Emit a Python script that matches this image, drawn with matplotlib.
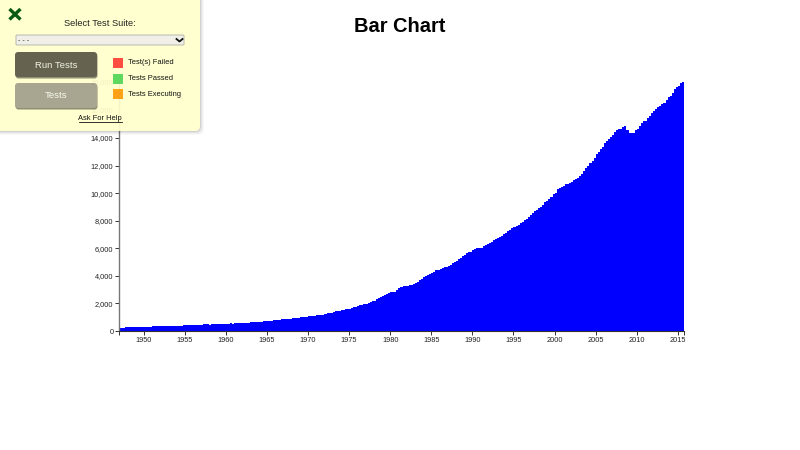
import matplotlib
matplotlib.use("Agg")
import matplotlib.pyplot as plt
import numpy as np
from matplotlib.patches import FancyBboxPatch, Rectangle
from matplotlib.ticker import FuncFormatter

plt.rcParams['font.family'] = ['Liberation Sans', 'DejaVu Sans']

START_YEAR = 1947
gdp = [
 243.1,246.3,250.1,260.3, 266.2,272.9,279.5,280.7, 275.4,271.7,273.3,271.0,
 281.2,290.7,308.5,320.3, 336.4,344.5,351.8,356.6, 360.2,361.4,368.1,381.2,
 388.5,392.3,391.7,386.5, 385.9,386.7,391.6,400.3, 413.8,422.2,430.9,437.8,
 440.5,446.8,452.0,461.3, 470.6,472.8,480.3,475.7, 468.4,472.8,486.7,500.4,
 511.1,524.2,525.2,529.3, 543.3,542.7,546.0,541.1, 545.9,557.4,568.2,581.6,
 595.2,602.6,609.6,613.1, 622.7,631.8,645.0,654.8, 671.1,680.8,692.8,698.7,
 719.2,732.4,750.2,773.1, 797.3,807.2,820.8,834.9, 846.0,851.1,866.6,883.2,
 911.1,936.3,952.3,970.1, 995.4,1011.4,1032.0,1040.7, 1053.5,1070.1,1088.5,1091.5,
 1137.8,1159.4,1180.3,1193.6, 1233.8,1270.1,1293.8,1332.0, 1380.7,1417.6,1436.8,1479.1,
 1494.7,1534.2,1563.4,1603.0, 1619.6,1656.4,1713.8,1765.9, 1824.5,1856.9,1890.5,1938.4,
 1992.5,2060.2,2122.4,2168.7, 2208.7,2336.6,2398.9,2482.2, 2531.6,2595.9,2670.4,2730.7,
 2796.5,2799.9,2860.0,2993.5, 3131.8,3167.3,3261.2,3283.5, 3273.8,3331.3,3367.1,3407.8,
 3480.3,3583.8,3692.3,3796.1, 3912.8,4015.0,4087.4,4147.6, 4237.0,4302.3,4394.6,4453.1,
 4516.3,4555.2,4619.6,4669.4, 4736.2,4821.5,4900.5,5022.7, 5090.6,5207.7,5299.5,5412.7,
 5527.4,5628.4,5711.6,5763.4, 5890.8,5974.7,6029.5,6023.3, 6054.9,6143.6,6218.4,6279.3,
 6380.8,6492.3,6586.5,6697.6, 6748.2,6829.6,6904.2,7032.8, 7136.3,7269.8,7352.3,7476.7,
 7545.3,7604.9,7706.5,7799.5, 7893.1,8061.5,8159.0,8287.1, 8402.1,8551.9,8691.8,8788.3,
 8889.7,8994.7,9146.5,9325.7, 9447.1,9557.0,9712.3,9926.1, 10031.0,10278.3,10357.4,10472.3,
 10508.1,10638.4,10639.5,10701.3, 10834.4,10934.8,11037.1,11103.8, 11230.1,11370.7,11625.1,11816.8,
 11988.4,12181.4,12367.7,12562.2, 12813.7,12974.1,13205.4,13381.6, 13648.9,13799.8,13908.5,14066.4,
 14233.2,14422.3,14569.7,14685.3, 14668.4,14813.0,14843.0,14549.9, 14383.9,14340.4,14384.1,14566.5,
 14681.1,14888.6,15057.7,15230.2, 15238.4,15460.9,15587.1,15785.3, 15973.9,16121.9,16227.9,16297.3,
 16475.4,16541.4,16749.3,16999.9, 17025.2,17285.6,17569.4,17692.2, 17783.6,17998.3,18064.7,
]
year_ticks = list(range(1950, 2016, 5))
value_ticks = list(range(0, 20000, 2000))
legend_labels = ['Test(s) Failed', 'Tests Passed', 'Tests Executing']
legend_colors = ['#ff4d42', '#5fd85f', '#ffa216']

W, H = 800, 450
fig = plt.figure(figsize=(8, 4.5), dpi=100, facecolor='white')
ax = fig.add_axes([119/W, 1-331/H, 565/W, 249/H])

x = START_YEAR + np.arange(len(gdp)) * 0.25
ax.bar(x, gdp, width=0.25, align='edge', color='#0000ff', linewidth=0)
ax.set_xlim(START_YEAR, START_YEAR + len(gdp) * 0.25)
ax.set_ylim(0, max(gdp))
ax.set_xticks(year_ticks)
ax.set_yticks([v for v in value_ticks if v <= max(gdp)])
ax.set_xticks(ax.get_xlim(), minor=True)
ax.xaxis.set_major_formatter(FuncFormatter(lambda v, p: str(int(v))))
ax.yaxis.set_major_formatter(FuncFormatter(lambda v, p: f'{int(v):,}'))
ax.tick_params(axis='both', which='major', length=3, width=0.7, color='#333333',
               labelsize=5.3, labelcolor='#222222', pad=1.0)
ax.tick_params(axis='x', which='major', pad=1.6)
ax.tick_params(axis='x', which='minor', length=3, width=0.7, color='#333333')
ax.spines['top'].set_visible(False)
ax.spines['right'].set_visible(False)
ax.spines['left'].set_color('#777777')
ax.spines['left'].set_linewidth(1.0)
ax.spines['bottom'].set_color('#333333')
ax.spines['bottom'].set_linewidth(0.8)

fig.text(400/W, 1-26/H, 'Bar Chart', ha='center', va='center', fontsize=14.4,
         fontweight='bold', color='black')

# overlay panel, in pixel coordinates
ui = fig.add_axes([0, 0, 1, 1], zorder=10)
ui.set_xlim(0, W); ui.set_ylim(H, 0); ui.axis('off')
ui.patch.set_alpha(0)

for off, a in [(4, .025), (3, .035), (2, .05), (1, .07)]:
    ui.add_patch(FancyBboxPatch((-20, -20), 220+off, 151+off,
                 boxstyle='round,pad=0,rounding_size=6', fc='black', ec='none', alpha=a))
ui.add_patch(FancyBboxPatch((-20, -20), 220, 151, boxstyle='round,pad=0,rounding_size=5',
             fc='#ffffcf', ec='none', alpha=1.0))
# faint axis labels showing through the translucent panel
for v in value_ticks[-2:]:
    yy = ax.transData.transform((0, v))[1]
    ui.text(113, H - yy, f'{v:,}', ha='right', va='center', fontsize=5.3, color='#222222', alpha=0.07)
ui.plot([119, 119], [H - ax.transData.transform((0, max(gdp)))[1], 131], color='#777777', lw=1, alpha=0.08)

ui.plot([9.5, 20.5], [9, 19.5], color='#0a5a14', lw=2.4, solid_capstyle='butt')
ui.plot([20.5, 9.5], [9, 19.5], color='#0a5a14', lw=2.4, solid_capstyle='butt')

ui.text(100, 24, 'Select Test Suite:', ha='center', va='center', fontsize=6.7, color='#222222')

ui.add_patch(FancyBboxPatch((16, 35), 168, 10, boxstyle='round,pad=0,rounding_size=1',
             fc='#f0f0e8', ec='#b8b8b0', lw=0.7))
ui.text(18, 40.5, '- - -', ha='left', va='center', fontsize=5, color='#333333')
ui.plot([176.5, 179.5, 182.5], [39, 41.5, 39], color='#111111', lw=1.3)

for top, col, label, tc in [(52, '#65634f', 'Run Tests', '#f2f2e6'), (83, '#a8a690', 'Tests', '#f8f8ee')]:
    ui.add_patch(FancyBboxPatch((15.5, top+1), 82, 25.5, boxstyle='round,pad=0,rounding_size=3',
                 fc='#444433', ec='none', alpha=0.6))
    ui.add_patch(FancyBboxPatch((15, top), 82, 25, boxstyle='round,pad=0,rounding_size=3',
                 fc=col, ec='none'))
    ui.text(56, top+13, label, ha='center', va='center', fontsize=6.8, color=tc)

for top, col, label in zip([58, 73.5, 89], legend_colors, legend_labels):
    ui.add_patch(Rectangle((113, top), 10, 10, fc=col, ec='none'))
    ui.text(128.5, top+5, label, ha='left', va='center', fontsize=5.4, color='#111111')

ui.text(100, 118, 'Ask For Help', ha='center', va='center', fontsize=5.4, color='#111111')
ui.plot([79, 121.5], [122, 122], color='#111111', lw=0.6)

fig.savefig('out.png', dpi=100)
